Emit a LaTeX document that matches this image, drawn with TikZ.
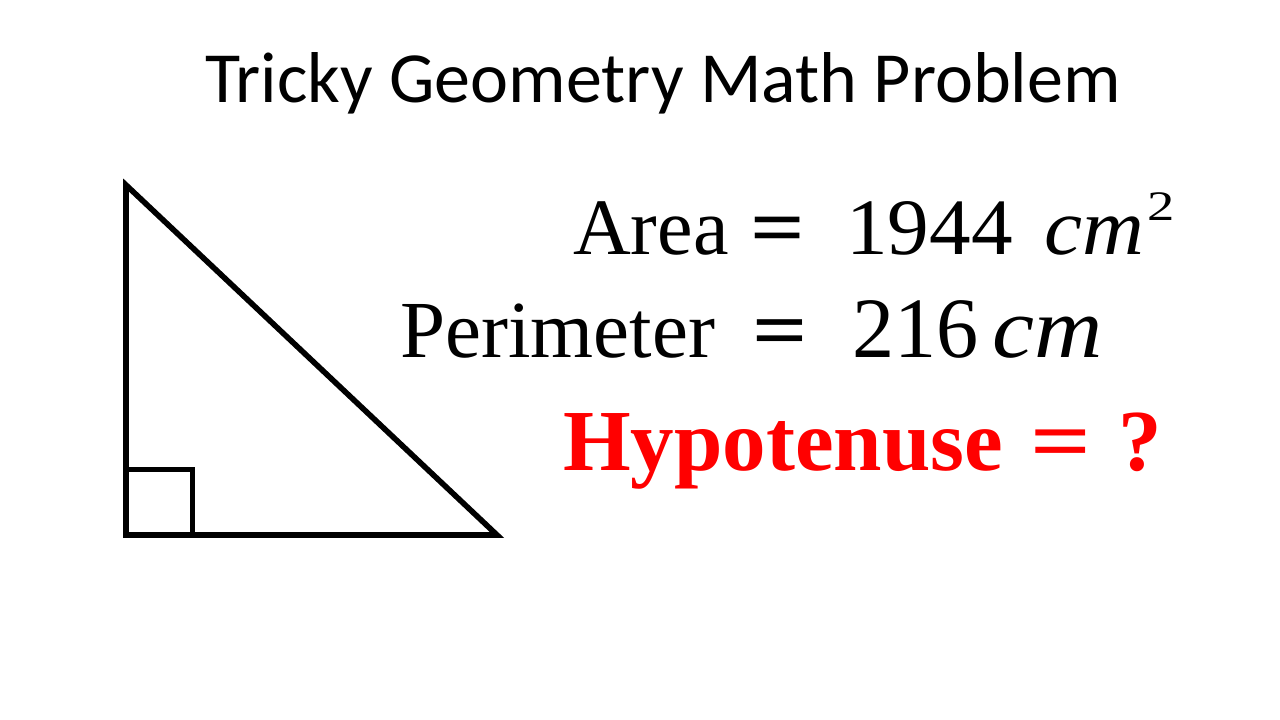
\documentclass[tikz,border=0pt]{standalone}
\usepackage{fontspec}
\usepackage{graphicx}
\setmainfont{Liberation Serif}
\newfontfamily\titlefont{Carlito}
\newcommand\pc[2]{\rlap{\hspace*{#1pt}#2}}
\begin{document}
\begin{tikzpicture}[x=1pt,y=-1pt,
  txt/.style={inner sep=0pt, anchor=base west},
  edge/.style={line width=5.6pt, line join=miter}]
\useasboundingbox (0,0) rectangle (1280,720);
\fill[white] (0,0) rectangle (1280,720);
% triangle
\coordinate (A) at (126,185);
\coordinate (C) at (126,535);
\coordinate (B) at (497,535);
\coordinate (S1) at (126,469);
\coordinate (S2) at (192,469);
\coordinate (S3) at (192,535);
\draw[edge] (A) -- (C) -- (B) -- cycle;
\draw[line width=5pt] (S1) -- (S2) -- (S3);
% texts
\node[txt] (title) at (205,102) {\titlefont\fontsize{72}{80}\selectfont Tricky Geometry Math Problem};
\node[txt] (area) at (573,254) {\fontsize{80}{90}\selectfont
  \pc{0}{Area}%
  \pc{177}{\scalebox{1.2}[1]{\textbf{=}}}%
  \pc{273}{\scalebox{1.04}[1]{1944}}%
  \pc{471}{\scalebox{1.07}[1]{\textit{cm}}}%
  \pc{574}{\raisebox{34pt}{\fontsize{42}{48}\selectfont\scalebox{1.3}[1]{2}}}%
  \hspace*{602pt}};
\node[txt] (per) at (400,357) {\fontsize{81}{90}\selectfont
  \pc{0}{Perimeter}%
  \pc{352}{\scalebox{1.2}[1]{\textbf{=}}}%
  \pc{452}{\fontsize{86}{90}\selectfont\scalebox{0.98}[1]{216}}%
  \pc{592}{\fontsize{86}{90}\selectfont\scalebox{1.1}[1]{\textit{cm}}}%
  \hspace*{705pt}};
\node[txt, text=red] (hyp) at (563,470) {\fontsize{87}{96}\selectfont\bfseries
  \pc{0}{Hypotenuse}%
  \pc{467}{\scalebox{1.23}[1]{=}}%
  \pc{555}{?}%
  \hspace*{595pt}};
\end{tikzpicture}
\end{document}
